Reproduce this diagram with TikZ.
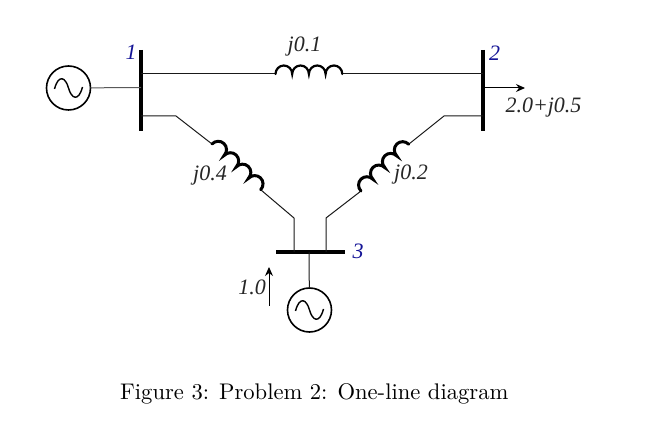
\documentclass[tikz,border=0pt]{standalone}
\usepackage{fontspec}
\setmainfont{lmroman10-regular.otf}
\newfontfamily\lblfont{Liberation Serif}[ItalicFont=* Italic]
\usetikzlibrary{arrows.meta}
\definecolor{busblue}{RGB}{20,20,150}
\tikzset{
  x=1pt,y=1pt,
  wire/.style={line width=1pt,black!90},
  bus/.style={line width=3.5pt,black},
  gen/.style={circle,draw,line width=1.6pt,minimum size=44pt,inner sep=0pt,outer sep=0pt},
  wave/.style={line width=1.4pt},
  coilthin/.style={line width=2.2pt,line cap=round},
  coilthick/.style={line width=3pt,line cap=round},
  lbl/.style={font=\lblfont\itshape\fontsize{22}{24}\selectfont,inner sep=0pt,text=black!85},
  buslbl/.style={font=\lblfont\itshape\fontsize{22}{24}\selectfont,inner sep=0pt,text=busblue},
  captext/.style={font=\fontsize{22.6}{26}\selectfont,inner sep=0pt,anchor=base west},
  flow/.style={line width=1pt,-{Stealth[length=9pt,width=8pt]}}
}
\newcommand{\coilpath}{(0,0) arc[start angle=180,end angle=0,x radius=8.35pt,y radius=8.5pt]
  arc[start angle=180,end angle=0,x radius=8.35pt,y radius=8.5pt]
  arc[start angle=180,end angle=0,x radius=8.35pt,y radius=8.5pt]
  arc[start angle=180,end angle=0,x radius=8.35pt,y radius=8.5pt]}
\newcommand{\sinewave}{(-14,-1) .. controls (-10,14) and (-3,11) .. (0,0) .. controls (3,-11) and (10,-14) .. (14,1)}
\begin{document}
\begin{tikzpicture}
\useasboundingbox (0,0) rectangle (648,-443);
% buses
\coordinate (b1t) at (141,-50); \coordinate (b1b) at (141,-131);
\coordinate (b2t) at (483,-50); \coordinate (b2b) at (483,-131);
\coordinate (b3l) at (276,-252); \coordinate (b3r) at (345,-252);
\draw[bus] (b1t) -- (b1b);
\draw[bus] (b2t) -- (b2b);
\draw[bus] (b3l) -- (b3r);
% generators
\node[gen] (g1) at (68.5,-88) {};
\node[gen] (g3) at (309.5,-310) {};
\draw[wave,shift={(g1.center)}] \sinewave;
\draw[wave,shift={(g3.center)}] \sinewave;
\coordinate (b1g) at (141,-87.5);
\coordinate (b3g) at (309,-252);
\draw[wire,black!65] (g1) -- (b1g);
\draw[wire] (g3) -- (b3g);
% line 1-2
\coordinate (b1a) at (141,-74); \coordinate (c12a) at (275.5,-74);
\coordinate (c12b) at (342,-74); \coordinate (b2a) at (483,-74);
\draw[wire] (b1a) -- (c12a);
\draw[wire] (c12b) -- (b2a);
\draw[coilthin,shift={(c12a)}] \coilpath;
% line 1-3
\coordinate (b1c) at (141,-116); \coordinate (k13) at (176,-116);
\coordinate (c13a) at (212,-144); \coordinate (c13b) at (261,-190);
\coordinate (k31) at (294,-218); \coordinate (b3a) at (294,-252);
\draw[wire] (b1c) -- (k13) -- (c13a);
\draw[wire] (c13b) -- (k31) -- (b3a);
\draw[coilthick,shift={(c13a)},rotate=-43.2] \coilpath;
% line 2-3
\coordinate (b2c) at (483,-116); \coordinate (k23) at (444,-116);
\coordinate (c23a) at (409,-144); \coordinate (c23b) at (361,-191);
\coordinate (k32) at (326,-218); \coordinate (b3b) at (326,-252);
\draw[wire] (b2c) -- (k23) -- (c23a);
\draw[wire] (c23b) -- (k32) -- (b3b);
\draw[coilthick,shift={(c23b)},rotate=44.4] \coilpath;
% flows
\coordinate (b2l) at (483,-88); \coordinate (l2) at (525,-88);
\draw[flow] (b2l) -- (l2);
\coordinate (f3a) at (269,-306); \coordinate (f3b) at (269,-267);
\draw[flow] (f3a) -- (f3b);
% labels
\node[buslbl] (n1) at (131,-52.5) {1};
\node[buslbl] (n2) at (494.5,-53.5) {2};
\node[buslbl] (n3) at (358,-251) {3};
\node[lbl] (t12) at (304.5,-46.5) {j0.1};
\node[lbl] (t13) at (210,-175.5) {j0.4};
\node[lbl] (t23) at (411,-174.5) {j0.2};
\node[lbl] (tl) at (543.5,-107.5) {2.0+j0.5};
\node[lbl] (tg) at (252,-287.5) {1.0};
\node[captext] (caption) at (120,-400) {Figure 3: Problem 2: One-line diagram};
\end{tikzpicture}
\end{document}
